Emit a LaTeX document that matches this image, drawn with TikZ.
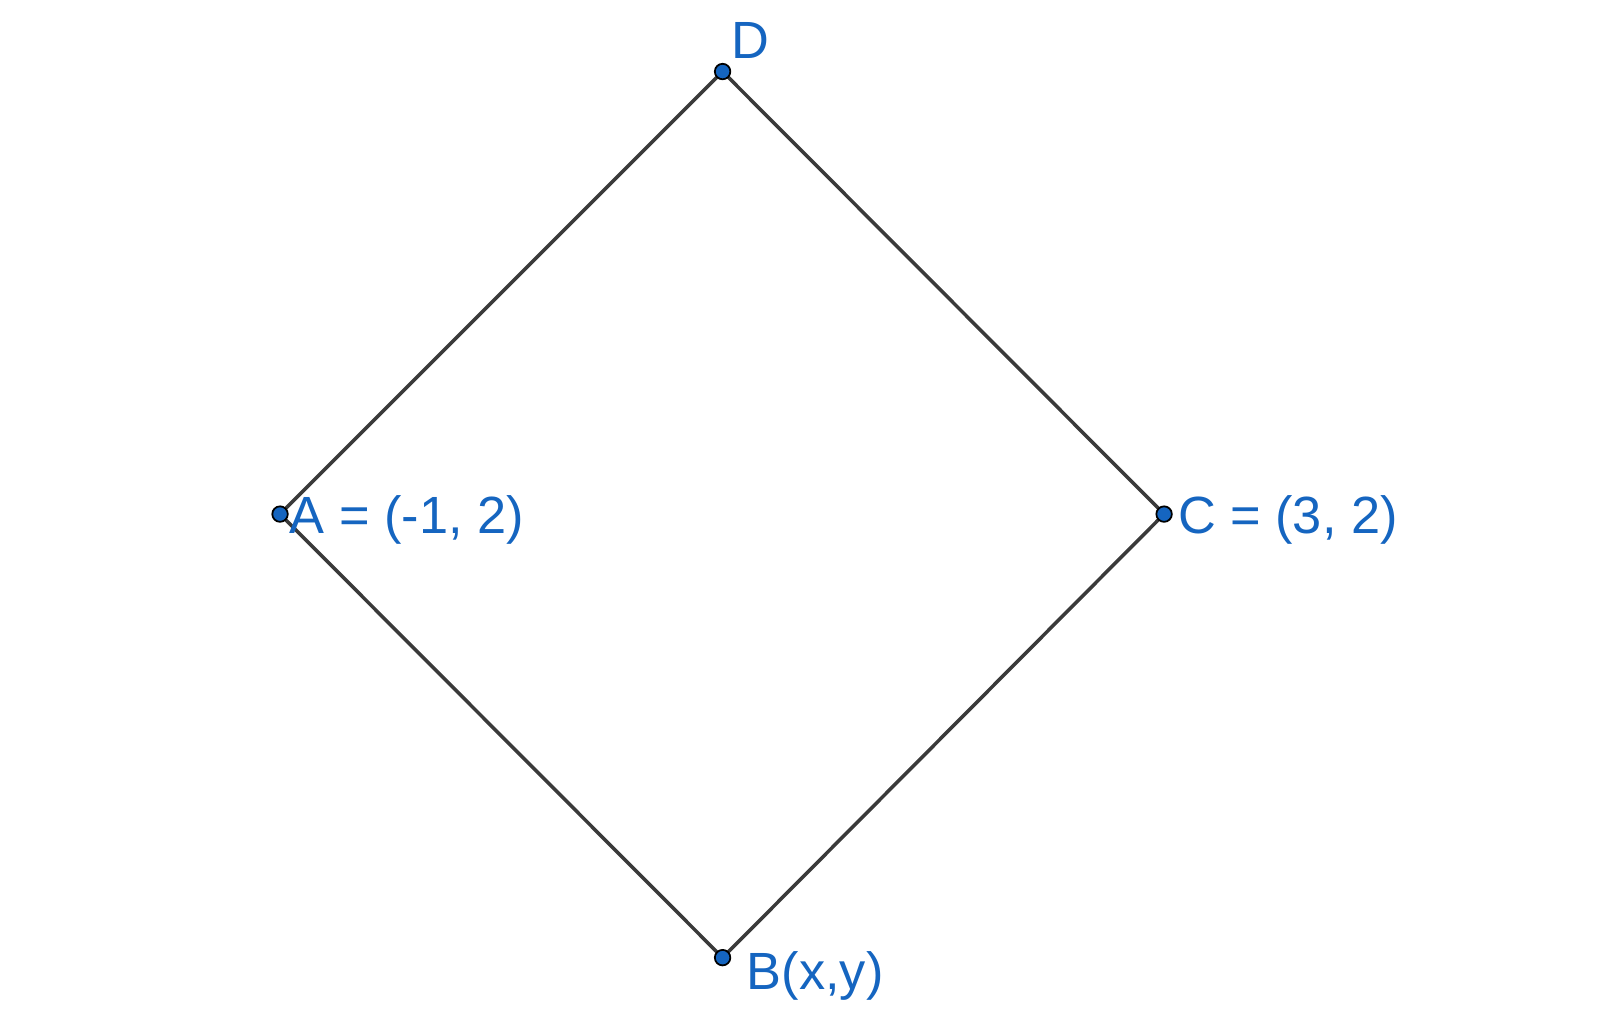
\documentclass[tikz,border=0pt]{standalone}
\usepackage{fontspec}
\setmainfont{Liberation Sans}
\definecolor{ptblue}{HTML}{1565C0}
\definecolor{sidegray}{HTML}{3A3A3A}

\begin{document}
\begin{tikzpicture}[x=0.01022cm,y=-0.01022cm]
	% Parameters
	\def\ptsize{0.155cm}
	\def\sidewidth{1pt}
	\def\labelfont{\fontsize{14.9}{17}\selectfont}
	\tikzset{
		pt/.style={shape=circle, draw=black, fill=ptblue, line width=0.5pt, inner sep=0pt, minimum size=\ptsize},
		ptlabel/.style={anchor=base west, text=ptblue, font=\labelfont, inner sep=0pt}
	}
	\useasboundingbox (0,0) rectangle (1565.5,1002);
	
	%vertices
	\coordinate (a) at (274,503);
	\coordinate (b) at (707,937);
	\coordinate (c) at (1139,503);
	\coordinate (d) at (707,70);
	
	%sides
	\draw[sidegray, line width=\sidewidth] (a)--(d)--(c)--(b)--cycle;
	
	%points
	\node[pt] (A) at (a) {};
	\node[pt] (B) at (b) {};
	\node[pt] (C) at (c) {};
	\node[pt] (D) at (d) {};
	
	%labels
	\node[ptlabel] (lA) at (283,522) {A = (-1, 2)};
	\node[ptlabel] (lC) at (1152,522) {C = (3, 2)};
	\node[ptlabel] (lD) at (715,57) {D};
	\node[ptlabel] (lB) at (730,968) {B(x,y)};
\end{tikzpicture}
\end{document}
